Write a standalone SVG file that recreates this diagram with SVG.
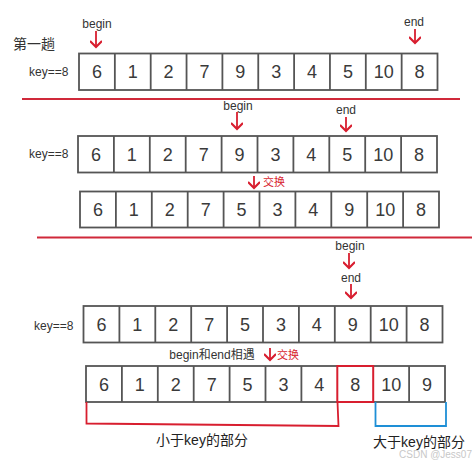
<svg xmlns="http://www.w3.org/2000/svg" width="474" height="462" viewBox="0 0 474 462">
<style>
.cell{fill:#fff;stroke:#555;stroke-width:1.8}
.num{font-family:"Liberation Sans",sans-serif;font-size:18px;fill:#3a3a3a;text-anchor:middle}
.lbl{font-family:"Liberation Sans","Noto Sans CJK SC",sans-serif;font-size:12px;fill:#333;text-anchor:middle}
.key{font-family:"Liberation Sans",sans-serif;font-size:12px;fill:#333}
.red{stroke:#d81e2f;stroke-width:1.8;fill:none}
.rt{font-family:"Noto Sans CJK SC",sans-serif;font-size:11px;fill:#d81e2f}
.big{font-family:"Liberation Sans","Noto Sans CJK SC",sans-serif;font-size:14px;fill:#222;text-anchor:middle}
</style>
<defs>
<marker id="ah" markerWidth="12" markerHeight="12" refX="8" refY="5" orient="auto" markerUnits="userSpaceOnUse" viewBox="0 0 10 10">
<polyline points="3,0 8,5 3,10" fill="none" stroke="#d81e2f" stroke-width="1.8"/>
</marker>
</defs>
<rect width="474" height="462" fill="#fff"/>

<g id="title">
<text x="13" y="49" font-family="'Noto Sans CJK SC',sans-serif" font-size="14" fill="#333">第一趟</text>
</g>

<g id="separators">
<line x1="22" y1="99" x2="460" y2="99" stroke="#d0293a" stroke-width="2"/>
<line x1="37" y1="237.5" x2="472" y2="237.5" stroke="#d0293a" stroke-width="2"/>
</g>

<g id="row1">
<text class="key" x="29" y="76">key==8</text>
<rect class="cell" x="79" y="53.5" width="358.5" height="36.5"/>
<g stroke="#555" stroke-width="1.8">
<line x1="114.85" y1="53.5" x2="114.85" y2="90"/><line x1="150.7" y1="53.5" x2="150.7" y2="90"/><line x1="186.55" y1="53.5" x2="186.55" y2="90"/><line x1="222.4" y1="53.5" x2="222.4" y2="90"/><line x1="258.25" y1="53.5" x2="258.25" y2="90"/><line x1="294.1" y1="53.5" x2="294.1" y2="90"/><line x1="329.95" y1="53.5" x2="329.95" y2="90"/><line x1="365.8" y1="53.5" x2="365.8" y2="90"/><line x1="401.65" y1="53.5" x2="401.65" y2="90"/>
</g>
<text class="num" x="96.9" y="78">6</text><text class="num" x="132.8" y="78">1</text><text class="num" x="168.6" y="78">2</text><text class="num" x="204.5" y="78">7</text><text class="num" x="240.3" y="78">9</text><text class="num" x="276.2" y="78">3</text><text class="num" x="312" y="78">4</text><text class="num" x="347.9" y="78">5</text><text class="num" x="383.7" y="78">10</text><text class="num" x="419.6" y="78">8</text>
</g>

<g id="row2">
<text class="key" x="29" y="158">key==8</text>
<rect class="cell" x="78" y="136" width="359" height="36.5"/>
<g stroke="#555" stroke-width="1.8">
<line x1="113.9" y1="136" x2="113.9" y2="172.5"/><line x1="149.8" y1="136" x2="149.8" y2="172.5"/><line x1="185.7" y1="136" x2="185.7" y2="172.5"/><line x1="221.6" y1="136" x2="221.6" y2="172.5"/><line x1="257.5" y1="136" x2="257.5" y2="172.5"/><line x1="293.4" y1="136" x2="293.4" y2="172.5"/><line x1="329.3" y1="136" x2="329.3" y2="172.5"/><line x1="365.2" y1="136" x2="365.2" y2="172.5"/><line x1="401.1" y1="136" x2="401.1" y2="172.5"/>
</g>
<text class="num" x="95.95" y="161">6</text><text class="num" x="131.85" y="161">1</text><text class="num" x="167.75" y="161">2</text><text class="num" x="203.65" y="161">7</text><text class="num" x="239.55" y="161">9</text><text class="num" x="275.45" y="161">3</text><text class="num" x="311.35" y="161">4</text><text class="num" x="347.25" y="161">5</text><text class="num" x="383.15" y="161">10</text><text class="num" x="419.05" y="161">8</text>
</g>

<g id="row3">
<rect class="cell" x="80" y="191.5" width="359" height="36"/>
<g stroke="#555" stroke-width="1.8">
<line x1="115.9" y1="191.5" x2="115.9" y2="227.5"/><line x1="151.8" y1="191.5" x2="151.8" y2="227.5"/><line x1="187.7" y1="191.5" x2="187.7" y2="227.5"/><line x1="223.6" y1="191.5" x2="223.6" y2="227.5"/><line x1="259.5" y1="191.5" x2="259.5" y2="227.5"/><line x1="295.4" y1="191.5" x2="295.4" y2="227.5"/><line x1="331.3" y1="191.5" x2="331.3" y2="227.5"/><line x1="367.2" y1="191.5" x2="367.2" y2="227.5"/><line x1="403.1" y1="191.5" x2="403.1" y2="227.5"/>
</g>
<text class="num" x="97.95" y="216">6</text><text class="num" x="133.85" y="216">1</text><text class="num" x="169.75" y="216">2</text><text class="num" x="205.65" y="216">7</text><text class="num" x="241.55" y="216">5</text><text class="num" x="277.45" y="216">3</text><text class="num" x="313.35" y="216">4</text><text class="num" x="349.25" y="216">9</text><text class="num" x="385.15" y="216">10</text><text class="num" x="421.05" y="216">8</text>
</g>

<g id="row4">
<text class="key" x="34" y="330">key==8</text>
<rect class="cell" x="83.5" y="306" width="359" height="36.5"/>
<g stroke="#555" stroke-width="1.8">
<line x1="119.4" y1="306" x2="119.4" y2="342.5"/><line x1="155.3" y1="306" x2="155.3" y2="342.5"/><line x1="191.2" y1="306" x2="191.2" y2="342.5"/><line x1="227.1" y1="306" x2="227.1" y2="342.5"/><line x1="263" y1="306" x2="263" y2="342.5"/><line x1="298.9" y1="306" x2="298.9" y2="342.5"/><line x1="334.8" y1="306" x2="334.8" y2="342.5"/><line x1="370.7" y1="306" x2="370.7" y2="342.5"/><line x1="406.6" y1="306" x2="406.6" y2="342.5"/>
</g>
<text class="num" x="101.45" y="331">6</text><text class="num" x="137.35" y="331">1</text><text class="num" x="173.25" y="331">2</text><text class="num" x="209.15" y="331">7</text><text class="num" x="245.05" y="331">5</text><text class="num" x="280.95" y="331">3</text><text class="num" x="316.85" y="331">4</text><text class="num" x="352.75" y="331">9</text><text class="num" x="388.65" y="331">10</text><text class="num" x="424.55" y="331">8</text>
</g>

<g id="row5">
<rect class="cell" x="86" y="366" width="359" height="36"/>
<g stroke="#555" stroke-width="1.8">
<line x1="121.9" y1="366" x2="121.9" y2="402"/><line x1="157.8" y1="366" x2="157.8" y2="402"/><line x1="193.7" y1="366" x2="193.7" y2="402"/><line x1="229.6" y1="366" x2="229.6" y2="402"/><line x1="265.5" y1="366" x2="265.5" y2="402"/><line x1="301.4" y1="366" x2="301.4" y2="402"/><line x1="409.1" y1="366" x2="409.1" y2="402"/>
</g>
<rect x="337.3" y="366" width="35.9" height="36" fill="none" stroke="#d81e2f" stroke-width="2"/>
<text class="num" x="103.95" y="391">6</text><text class="num" x="139.85" y="391">1</text><text class="num" x="175.75" y="391">2</text><text class="num" x="211.65" y="391">7</text><text class="num" x="247.55" y="391">5</text><text class="num" x="283.45" y="391">3</text><text class="num" x="319.35" y="391">4</text><text class="num" x="355.25" y="391">8</text><text class="num" x="391.15" y="391">10</text><text class="num" x="427.05" y="391">9</text>
</g>

<g id="pointers">
<text class="lbl" x="97" y="28">begin</text>
<text class="lbl" x="414" y="26">end</text>
<text class="lbl" x="238" y="110">begin</text>
<text class="lbl" x="346" y="114">end</text>
<text class="lbl" x="350" y="250">begin</text>
<text class="lbl" x="351" y="282">end</text>
<text class="lbl" x="212" y="359">begin和end相遇</text>
<text class="rt" x="263" y="186">交换</text>
<text class="rt" x="277" y="359">交换</text>
</g>

<g id="connectors">
<line class="red" x1="96" y1="31" x2="96" y2="47" marker-end="url(#ah)"/>
<line class="red" x1="415" y1="29" x2="415" y2="43" marker-end="url(#ah)"/>
<line class="red" x1="237" y1="112" x2="237" y2="129" marker-end="url(#ah)"/>
<line class="red" x1="346" y1="117" x2="346" y2="131" marker-end="url(#ah)"/>
<line class="red" x1="254" y1="176" x2="254" y2="188" marker-end="url(#ah)"/>
<line class="red" x1="349" y1="253" x2="349" y2="268" marker-end="url(#ah)"/>
<line class="red" x1="351" y1="284" x2="351" y2="298" marker-end="url(#ah)"/>
<line class="red" x1="270" y1="348" x2="270" y2="360" marker-end="url(#ah)"/>
</g>

<g id="brackets">
<polyline points="86.5,402 86.5,423.5 338.5,426 337.5,402" fill="none" stroke="#d81e2f" stroke-width="1.8"/>
<polyline points="375.5,402 375.5,426 446,426 446,402" fill="none" stroke="#1e8fd6" stroke-width="1.8"/>
<text class="big" x="202" y="445">小于key的部分</text>
<text class="big" x="419" y="447">大于key的部分</text>
</g>

<text x="472" y="458" text-anchor="end" font-family="'Liberation Sans',sans-serif" font-size="10" fill="#c8c8c8">CSDN @Jess07</text>
</svg>
